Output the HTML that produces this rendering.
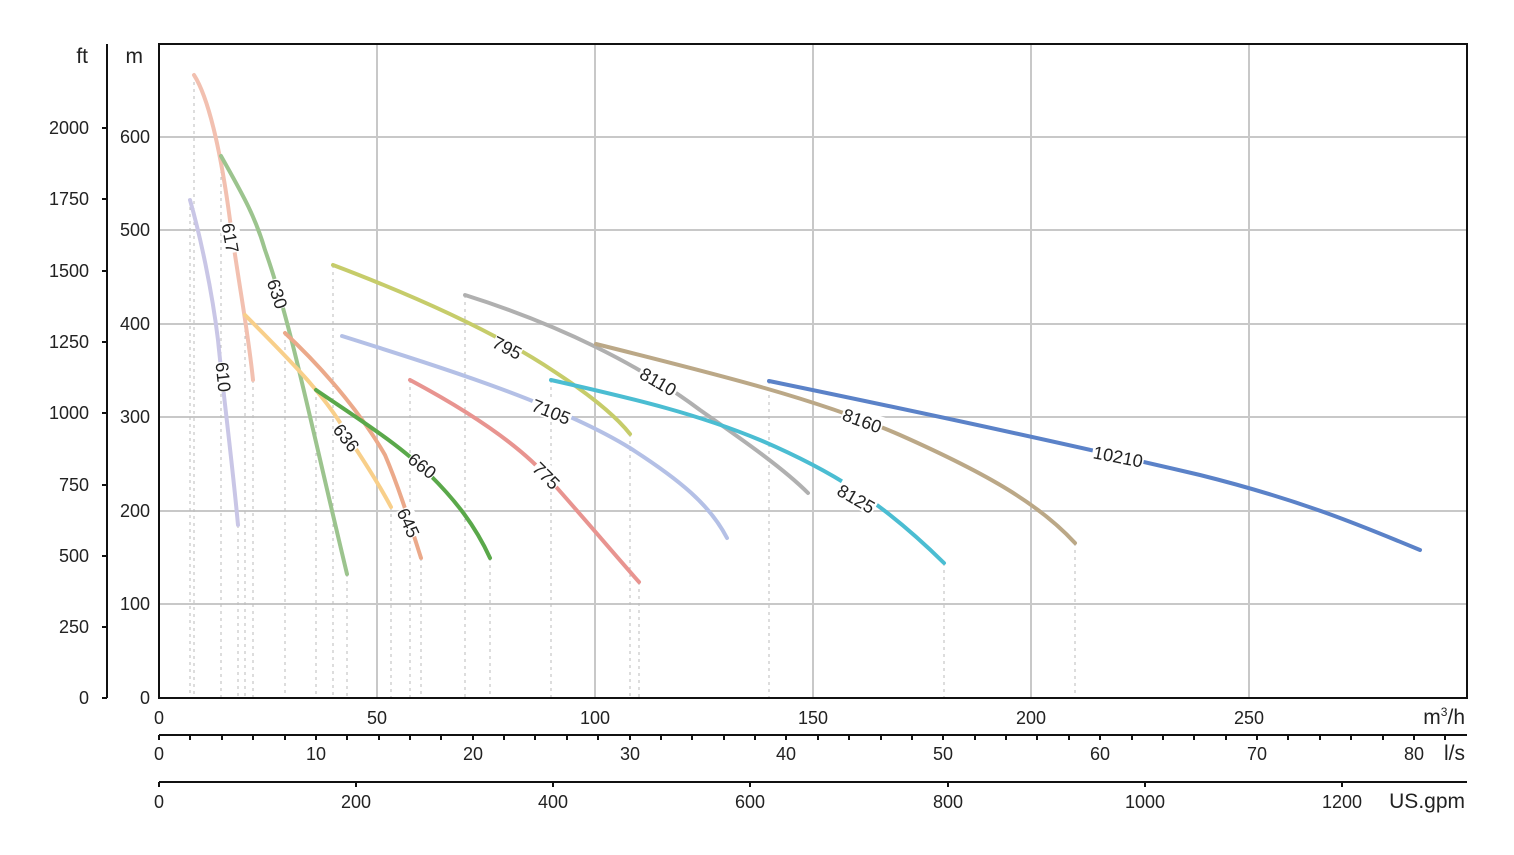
<!DOCTYPE html>
<html><head><meta charset="utf-8"><style>
html,body{margin:0;padding:0;background:#fff}
svg{display:block}
text{font-family:"Liberation Sans",sans-serif;fill:#222}
</style></head><body>
<svg width="1514" height="855" viewBox="0 0 1514 855" xmlns="http://www.w3.org/2000/svg">
<g stroke="#c8c8c8" stroke-width="2">
<line x1="377" y1="44" x2="377" y2="698"/><line x1="595" y1="44" x2="595" y2="698"/>
<line x1="813" y1="44" x2="813" y2="698"/><line x1="1031" y1="44" x2="1031" y2="698"/>
<line x1="1249" y1="44" x2="1249" y2="698"/>
<line x1="159" y1="604" x2="1467" y2="604"/><line x1="159" y1="511" x2="1467" y2="511"/>
<line x1="159" y1="417" x2="1467" y2="417"/><line x1="159" y1="324" x2="1467" y2="324"/>
<line x1="159" y1="230" x2="1467" y2="230"/><line x1="159" y1="137" x2="1467" y2="137"/>
</g>
<g stroke="#bbb" stroke-width="1" stroke-dasharray="3,4">
<line x1="190" y1="200" x2="190" y2="698"/><line x1="194" y1="75" x2="194" y2="698"/>
<line x1="221" y1="156" x2="221" y2="698"/><line x1="238" y1="525" x2="238" y2="698"/>
<line x1="245" y1="315" x2="245" y2="698"/><line x1="253" y1="380" x2="253" y2="698"/>
<line x1="285" y1="333" x2="285" y2="698"/><line x1="316" y1="390" x2="316" y2="698"/>
<line x1="333" y1="265" x2="333" y2="698"/><line x1="347" y1="574" x2="347" y2="698"/>
<line x1="391" y1="507" x2="391" y2="698"/><line x1="410" y1="380" x2="410" y2="698"/>
<line x1="421" y1="558" x2="421" y2="698"/><line x1="465" y1="295" x2="465" y2="698"/>
<line x1="490" y1="558" x2="490" y2="698"/><line x1="551" y1="380" x2="551" y2="698"/>
<line x1="630" y1="434" x2="630" y2="698"/><line x1="639" y1="582" x2="639" y2="698"/>
<line x1="769" y1="381" x2="769" y2="698"/><line x1="944" y1="563" x2="944" y2="698"/>
<line x1="1075" y1="543" x2="1075" y2="698"/>
</g>
<g fill="none" stroke-width="4" stroke-linecap="round">
<path stroke="#c9c6e6" d="M190,200 C200,235 212,290 218,340 C224,400 232,460 238,525"/>
<path stroke="#f2c0b0" d="M194,75 C210,100 222,160 230,220 C238,280 248,330 253,380"/>
<path stroke="#9cc48e" d="M221,156 C240,190 255,215 265,250 C290,320 310,420 347,574"/>
<path stroke="#f8cf8a" d="M245,315 C290,360 330,400 350,440 C370,470 382,490 391,507"/>
<path stroke="#eba98a" d="M285,333 C330,375 365,420 385,455 C400,490 412,530 421,558"/>
<path stroke="#5aa84a" d="M316,390 C360,420 400,445 430,475 C455,500 475,525 490,558"/>
<path stroke="#c6cc6a" d="M333,265 C420,298 500,335 555,372 C590,395 615,415 630,434"/>
<path stroke="#b4c0e6" d="M342,336 C450,370 560,405 630,448 C680,480 710,505 727,538"/>
<path stroke="#e89490" d="M410,380 C470,412 520,445 550,480 C590,525 615,555 639,582"/>
<path stroke="#b0b0b0" d="M465,295 C560,325 640,365 700,410 C750,445 785,470 808,493"/>
<path stroke="#4bbdd2" d="M551,380 C640,400 700,415 760,440 C830,470 880,500 944,563"/>
<path stroke="#bba887" d="M596,344 C720,375 820,400 900,435 C990,475 1040,505 1075,543"/>
<path stroke="#5b82c8" d="M769,381 C900,408 1050,440 1200,475 C1300,500 1360,525 1420,550"/>
</g>
<g font-size="18" text-anchor="middle">
<g transform="translate(223,377) rotate(84)"><rect x="-15" y="-11" width="30" height="19" fill="#fff"/><text y="6">610</text></g>
<g transform="translate(230,238) rotate(80)"><rect x="-15" y="-11" width="30" height="19" fill="#fff"/><text y="6">617</text></g>
<g transform="translate(277,294) rotate(72)"><rect x="-15" y="-11" width="30" height="19" fill="#fff"/><text y="6">630</text></g>
<g transform="translate(346,438) rotate(52)"><rect x="-15" y="-11" width="30" height="19" fill="#fff"/><text y="6">636</text></g>
<g transform="translate(408,523) rotate(65)"><rect x="-15" y="-11" width="30" height="19" fill="#fff"/><text y="6">645</text></g>
<g transform="translate(422,466) rotate(38)"><rect x="-15" y="-11" width="30" height="19" fill="#fff"/><text y="6">660</text></g>
<g transform="translate(507,348) rotate(27)"><rect x="-15" y="-11" width="30" height="19" fill="#fff"/><text y="6">795</text></g>
<g transform="translate(551,412) rotate(22)"><rect x="-21" y="-11" width="42" height="19" fill="#fff"/><text y="6">7105</text></g>
<g transform="translate(546,476) rotate(45)"><rect x="-15" y="-11" width="30" height="19" fill="#fff"/><text y="6">775</text></g>
<g transform="translate(658,382) rotate(30)"><rect x="-21" y="-11" width="42" height="19" fill="#fff"/><text y="6">8110</text></g>
<g transform="translate(856,499) rotate(30)"><rect x="-21" y="-11" width="42" height="19" fill="#fff"/><text y="6">8125</text></g>
<g transform="translate(862,421) rotate(20)"><rect x="-21" y="-11" width="42" height="19" fill="#fff"/><text y="6">8160</text></g>
<g transform="translate(1118,457) rotate(11)"><rect x="-26" y="-11" width="52" height="19" fill="#fff"/><text y="6">10210</text></g>
</g>
<rect x="159" y="44" width="1308" height="654" fill="none" stroke="#111" stroke-width="2"/>
<g stroke="#111" stroke-width="2">
<line x1="107" y1="44" x2="107" y2="698"/>
<line x1="102" y1="698" x2="107" y2="698"/><line x1="102" y1="627" x2="107" y2="627"/>
<line x1="102" y1="556" x2="107" y2="556"/><line x1="102" y1="485" x2="107" y2="485"/>
<line x1="102" y1="413" x2="107" y2="413"/><line x1="102" y1="342" x2="107" y2="342"/>
<line x1="102" y1="271" x2="107" y2="271"/><line x1="102" y1="199" x2="107" y2="199"/>
<line x1="102" y1="128" x2="107" y2="128"/>
</g>
<g font-size="18" text-anchor="end">
<text x="89" y="704">0</text><text x="89" y="633">250</text><text x="89" y="562">500</text>
<text x="89" y="491">750</text><text x="89" y="419">1000</text><text x="89" y="348">1250</text>
<text x="89" y="277">1500</text><text x="89" y="205">1750</text><text x="89" y="134">2000</text>
<text x="150" y="704">0</text><text x="150" y="610">100</text><text x="150" y="517">200</text>
<text x="150" y="423">300</text><text x="150" y="330">400</text><text x="150" y="236">500</text>
<text x="150" y="143">600</text>
</g>
<text x="88" y="63" font-size="21" text-anchor="end">ft</text>
<text x="143" y="63" font-size="21" text-anchor="end">m</text>
<g font-size="18" text-anchor="middle">
<text x="159" y="724">0</text><text x="377" y="724">50</text><text x="595" y="724">100</text>
<text x="813" y="724">150</text><text x="1031" y="724">200</text><text x="1249" y="724">250</text>
</g>
<text x="1465" y="724" font-size="21" text-anchor="end">m<tspan font-size="12" dy="-8">3</tspan><tspan dy="8">/h</tspan></text>
<line x1="159" y1="735" x2="1467" y2="735" stroke="#111" stroke-width="2"/>
<g stroke="#111" stroke-width="2">
<line x1="159" y1="735" x2="159" y2="740"/><line x1="190" y1="735" x2="190" y2="740"/><line x1="222" y1="735" x2="222" y2="740"/><line x1="253" y1="735" x2="253" y2="740"/><line x1="285" y1="735" x2="285" y2="740"/><line x1="316" y1="735" x2="316" y2="740"/><line x1="347" y1="735" x2="347" y2="740"/><line x1="379" y1="735" x2="379" y2="740"/><line x1="410" y1="735" x2="410" y2="740"/><line x1="441" y1="735" x2="441" y2="740"/><line x1="473" y1="735" x2="473" y2="740"/><line x1="504" y1="735" x2="504" y2="740"/><line x1="535" y1="735" x2="535" y2="740"/><line x1="567" y1="735" x2="567" y2="740"/><line x1="598" y1="735" x2="598" y2="740"/><line x1="630" y1="735" x2="630" y2="740"/><line x1="661" y1="735" x2="661" y2="740"/><line x1="692" y1="735" x2="692" y2="740"/><line x1="724" y1="735" x2="724" y2="740"/><line x1="755" y1="735" x2="755" y2="740"/><line x1="786" y1="735" x2="786" y2="740"/><line x1="818" y1="735" x2="818" y2="740"/><line x1="849" y1="735" x2="849" y2="740"/><line x1="881" y1="735" x2="881" y2="740"/><line x1="912" y1="735" x2="912" y2="740"/><line x1="943" y1="735" x2="943" y2="740"/><line x1="975" y1="735" x2="975" y2="740"/><line x1="1006" y1="735" x2="1006" y2="740"/><line x1="1037" y1="735" x2="1037" y2="740"/><line x1="1069" y1="735" x2="1069" y2="740"/><line x1="1100" y1="735" x2="1100" y2="740"/><line x1="1132" y1="735" x2="1132" y2="740"/><line x1="1163" y1="735" x2="1163" y2="740"/><line x1="1194" y1="735" x2="1194" y2="740"/><line x1="1226" y1="735" x2="1226" y2="740"/><line x1="1257" y1="735" x2="1257" y2="740"/><line x1="1288" y1="735" x2="1288" y2="740"/><line x1="1320" y1="735" x2="1320" y2="740"/><line x1="1351" y1="735" x2="1351" y2="740"/><line x1="1383" y1="735" x2="1383" y2="740"/><line x1="1414" y1="735" x2="1414" y2="740"/><line x1="1445" y1="735" x2="1445" y2="740"/>
</g>
<g font-size="18" text-anchor="middle">
<text x="159" y="760">0</text><text x="316" y="760">10</text><text x="473" y="760">20</text>
<text x="630" y="760">30</text><text x="786" y="760">40</text><text x="943" y="760">50</text>
<text x="1100" y="760">60</text><text x="1257" y="760">70</text><text x="1414" y="760">80</text>
</g>
<text x="1465" y="760" font-size="21" text-anchor="end">l/s</text>
<line x1="159" y1="782" x2="1467" y2="782" stroke="#111" stroke-width="2"/>
<g stroke="#111" stroke-width="2">
<line x1="159" y1="782" x2="159" y2="787"/><line x1="356" y1="782" x2="356" y2="787"/><line x1="553" y1="782" x2="553" y2="787"/><line x1="750" y1="782" x2="750" y2="787"/><line x1="948" y1="782" x2="948" y2="787"/><line x1="1145" y1="782" x2="1145" y2="787"/><line x1="1342" y1="782" x2="1342" y2="787"/>
</g>
<g font-size="18" text-anchor="middle">
<text x="159" y="808">0</text><text x="356" y="808">200</text><text x="553" y="808">400</text>
<text x="750" y="808">600</text><text x="948" y="808">800</text><text x="1145" y="808">1000</text>
<text x="1342" y="808">1200</text>
</g>
<text x="1465" y="808" font-size="21" text-anchor="end">US.gpm</text>
</svg>
</body></html>
